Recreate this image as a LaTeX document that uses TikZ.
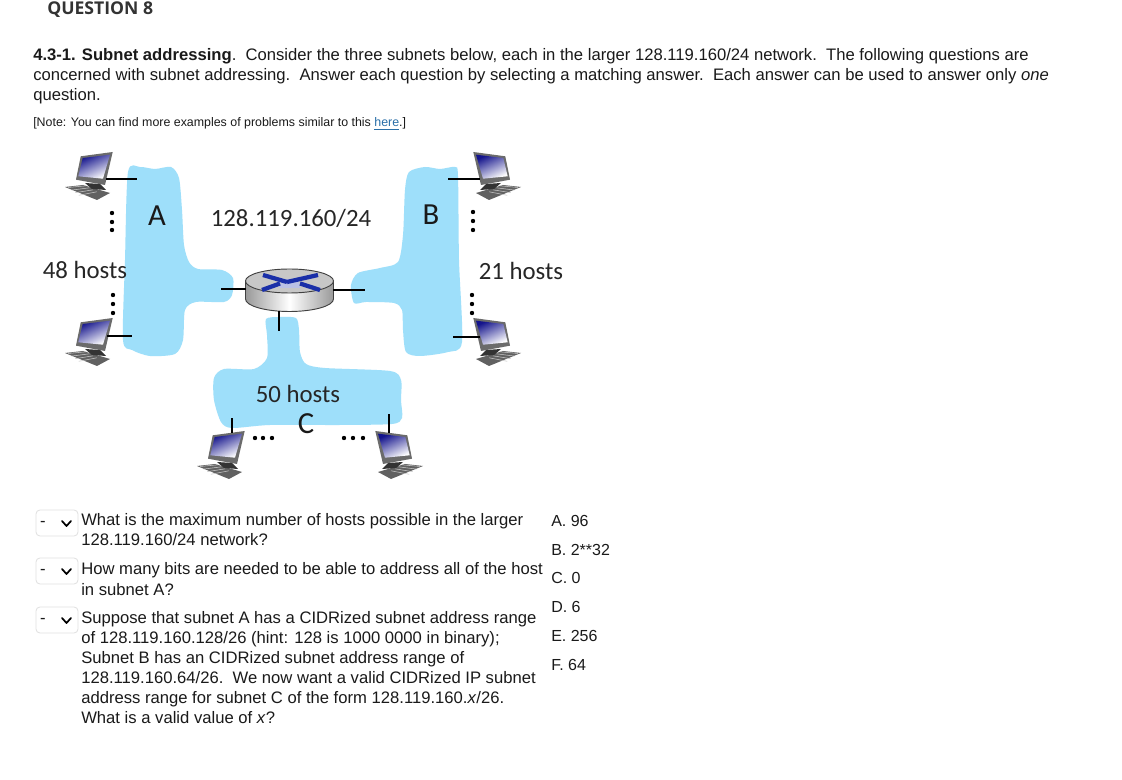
\documentclass[tikz,border=0pt]{standalone}
\usepackage{fontspec}
\setmainfont{Liberation Sans}
\newfontfamily\diagfont{Carlito}
\newfontfamily\headfont{Open Sans}
\definecolor{netblue}{HTML}{9EDFFA}
\definecolor{linkblue}{HTML}{2A6FA8}
\definecolor{txt}{HTML}{1A1A1A}
\definecolor{routerx}{HTML}{1A2FA8}
\definecolor{screenb}{HTML}{14148C}
\tikzset{
  x=0.75pt,y=-0.75pt,
  body/.style={anchor=base west,inner sep=0pt,text=txt,font=\fontsize{12.48}{14}\selectfont},
  answer/.style={anchor=base west,inner sep=0pt,text=txt,font=\fontsize{12}{14}\selectfont},
  small/.style={anchor=base west,inner sep=0pt,text=txt,font=\fontsize{9.3}{11}\selectfont},
  diag/.style={inner sep=0pt,text=black!85,font=\diagfont\fontsize{18.6}{20}\selectfont},
  diagbig/.style={inner sep=0pt,text=black!90,font=\diagfont\fontsize{23}{25}\selectfont},
  net/.style={fill=netblue,draw=none},
  wire/.style={draw=black,line width=0.9pt},
  selbox/.style={draw=black!12,line width=0.6pt,rounded corners=3pt,fill=white},
  chev/.style={draw=black,line width=1.3pt,line cap=round,line join=round},
  dot/.style={fill=black,draw=none},
  computer/.pic={
    % keyboard
    \fill[black!62] (-41,8) -- (-23,6) -- (4,14) -- (-9,21) -- cycle;
    \foreach \i in {0,1,2,3}{\draw[black!22,line width=0.4pt] (-38+\i*3.6,8.5+\i*2.6) -- (-20+\i*3.6,6.8+\i*2.0);}
    % stand
    \fill[black!80] (-21,4) -- (-6,5) -- (0,11) -- (-14,10) -- cycle;
    % monitor
    \fill[black!58] (-25.3,-22.7) -- (6.7,-27) -- (-1,6) -- (-30,0.7) -- cycle;
    \shade[top color=screenb,middle color=screenb!28!white,bottom color=white,shading angle=25]
      (-23.3,-21) -- (4,-24.3) -- (-3,-0.3) -- (-27.7,-2.7) -- cycle;
  },
}
\newcommand{\qtext}[3]{\node[body] (#1) at (#2) {#3};}
\newcommand{\atext}[3]{\node[answer] (#1) at (#2) {#3};}
\begin{document}
\begin{tikzpicture}
\useasboundingbox (0,0) rectangle (1122,780);
\fill[white] (0,0) rectangle (1122,780);

% heading and intro
\node[anchor=base west,inner sep=0pt,text=black!80,font=\headfont\bfseries\fontsize{13.2}{15}\selectfont] (head) at (47,15) {QUESTION 8};
\qtext{l1}{33,60.5}{\textbf{4.3-1. Subnet addressing}.\ \ Consider the three subnets below, each in the larger 128.119.160/24 network.\ \ The following questions are}
\qtext{l2}{33,80.5}{concerned with subnet addressing.\ \ Answer each question by selecting a matching answer.\ \ Each answer can be used to answer only \textit{one}}
\qtext{l3}{33,100.5}{question.}
\node[small] (note) at (33,127) {[Note: You can find more examples of problems similar to this \textcolor{linkblue}{\underline{here}}.]};

% subnets
\fill[net] plot[smooth cycle,tension=0.45] coordinates {(128,172)(140,167)(155,169)(171,167)(179,178)(182,210)(184,245)(189,262)(198,269)(222,270)(233,278)(232,295)(224,302)(196,302)(185,310)(183,340)(175,354)(150,356)(132,350)(123,340)(125,260)};
\fill[net] plot[smooth cycle,tension=0.45] coordinates {(409,172)(425,167)(440,169)(455,167)(458,176)(459,260)(462,342)(448,352)(420,356)(406,352)(403,330)(402,310)(394,303)(366,302)(354,303)(351,285)(358,273)(380,268)(398,262)(403,235)(405,190)};
\fill[net] plot[smooth cycle,tension=0.45] coordinates {(266,319)(280,317)(296,318)(299,330)(300,352)(306,364)(325,368)(390,371)(401,380)(401,400)(402,418)(392,424)(340,425)(270,425)(232,428)(221,422)(214,400)(214,378)(224,369)(254,369)(267,358)(267,335)};

% router
\node[inner sep=0pt,minimum size=0pt] (router) at (289.5,290) {};
\coordinate (rl) at (246,289);
\coordinate (rr) at (333,290);
\coordinate (rb) at (279,311);
\shade[left color=black!40,right color=black!40,middle color=white,draw=black!75,line width=0.7pt]
  (245.5,281) -- (245.5,299) arc[start angle=180,end angle=0,x radius=44,y radius=12.5] -- (333.5,281) -- cycle;
\fill[black!22,draw=black!75,line width=0.7pt] (289.5,281) ellipse[x radius=44,y radius=12];
\fill[routerx!30] (283,279) -- (298,279) -- (300,288) -- (279,288) -- cycle;
\draw[routerx,line width=3.2pt] (263,275) -- (287,282);
\draw[routerx,line width=3.2pt] (287,282) -- (318,275);
\draw[routerx,line width=3.2pt] (262,290) -- (280,283.5);
\draw[routerx,line width=3.2pt] (300,283.5) -- (320,290);

% computers
\pic at (106,179) {computer};
\pic at (106,345) {computer};
\pic[xscale=-1] at (480,179) {computer};
\pic[xscale=-1] at (480,345) {computer};
\pic at (238,458) {computer};
\pic[xscale=-1] at (382,458) {computer};

% connector ends
\coordinate (ta) at (106,179);
\coordinate (ae) at (137,179);
\coordinate (ba) at (107,336);
\coordinate (af) at (132,336);
\coordinate (tb) at (480,179);
\coordinate (be) at (448,179);
\coordinate (bb) at (480,337);
\coordinate (bf) at (453,337);
\coordinate (cl) at (232,433);
\coordinate (ce) at (232,418);
\coordinate (cr) at (389,433);
\coordinate (cf) at (389,414);
\coordinate (ra) at (221,289);
\coordinate (rb2) at (365,290);
\coordinate (rc) at (279,331);

\draw[wire] (ta) -- (ae);
\draw[wire] (ba) -- (af);
\draw[wire] (tb) -- (be);
\draw[wire] (bb) -- (bf);
\draw[wire] (cl) -- (ce);
\draw[wire] (cr) -- (cf);
\draw[wire] (rl) -- (ra);
\draw[wire] (rr) -- (rb2);
\draw[wire] (rb) -- (rc);

% ellipsis dots
\foreach \px/\py in {112/213,112/222,112/230,113/295,113/304,113/313,473/212,473/221,473/230,472/295,472/304,472/313,255/438,263/438,272/438,344/438,353/438,363/438}
  {\fill[dot] (\px,\py) circle[radius=2.2];}

% diagram labels
\node[diagbig] (la) at (157,216) {A};
\node[diagbig] (lb) at (431,215) {B};
\node[diag] (lnet) at (291,218) {128.119.160/24};
\node[diag] (h48) at (85,270) {48 hosts};
\node[diag] (h21) at (521,271) {21 hosts};
\node[diag] (h50) at (298,394) {50 hosts};
\node[diagbig] (lc) at (306,424) {C};

% selects
\foreach \yy in {510,558,607}{
  \draw[selbox] (36,\yy) rectangle (78,\yy+26);
  \node[body,anchor=center] at (43,\yy+14) {-};
  \draw[chev] (62,\yy+11) -- (66.5,\yy+16) -- (71,\yy+11);
}

% questions
\qtext{q1}{81,526}{What is the maximum number of hosts possible in the larger}
\qtext{q1b}{81,546}{128.119.160/24 network?}
\qtext{q2}{81,575}{How many bits are needed to be able to address all of the host}
\qtext{q2b}{81,595}{in subnet A?}
\qtext{q3}{81,623.5}{Suppose that subnet A has a CIDRized subnet address range}
\qtext{q3b}{81,643.5}{of 128.119.160.128/26 (hint: 128 is 1000 0000 in binary);}
\qtext{q3c}{81,663.5}{Subnet B has an CIDRized subnet address range of}
\qtext{q3d}{81,683.5}{128.119.160.64/26.\ \ We now want a valid CIDRized IP subnet}
\qtext{q3e}{81,703.5}{address range for subnet C of the form 128.119.160.\textit{x}/26.}
\qtext{q3f}{81,723.5}{What is a valid value of \textit{x}?}

% answers
\atext{aa}{551,526.5}{A. 96}
\atext{ab}{551,555.5}{B. 2**32}
\atext{ac}{551,583.5}{C. 0}
\atext{ad}{551,612.5}{D. 6}
\atext{ae2}{551,641.5}{E. 256}
\atext{af2}{551,670.5}{F. 64}
\end{tikzpicture}
\end{document}
